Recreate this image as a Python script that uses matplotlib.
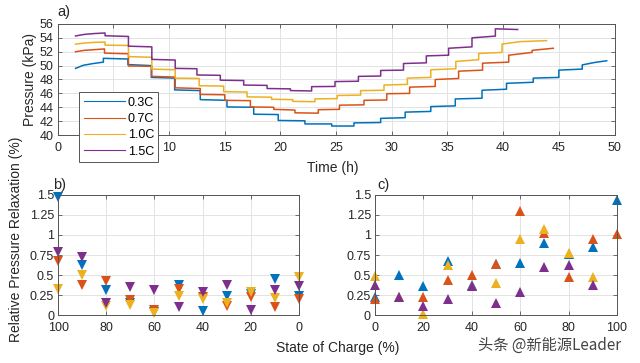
import numpy as np
import matplotlib
matplotlib.use("Agg")
import matplotlib.pyplot as plt

plt.rcParams['font.family'] = ['Liberation Sans', 'DejaVu Sans']
plt.rcParams['font.size'] = 9

# MATLAB default colours
c03 = '#0072BD'
c07 = '#D95319'
c10 = '#EDB120'
c15 = '#7E2F8E'

# ---- a) pressure vs time, step levels
t_03 = [1.6, 2.3, 3.2, 4.1, 6.3, 8.4, 10.5, 12.8, 15.2, 17.6, 19.8, 22.2, 24.6, 26.6,
        29.0, 31.2, 33.5, 35.7, 38.1, 40.3, 42.7, 45.0, 47.1, 48.2, 49.3]
ps_03 = [49.6, 50.05, 50.3, 51.05, 50.15, 48.3, 46.5, 45.1, 44.05, 43.0, 42.1, 41.6,
         41.3, 41.75, 42.4, 43.3, 44.1, 45.2, 46.45, 47.45, 48.2, 49.35, 50.1, 50.45]
pe_03 = [50.05, 50.3, 50.5, 50.95, 50.0, 48.2, 46.4, 45.0, 44.0, 42.95, 42.05, 41.6,
         41.3, 41.8, 42.5, 43.4, 44.2, 45.3, 46.6, 47.6, 48.3, 49.5, 50.45, 50.7]

t_07 = [1.6, 2.4, 3.3, 4.2, 6.35, 8.45, 10.55, 12.8, 15.0, 17.3, 19.4, 21.3, 23.4, 25.3,
        27.5, 29.55, 31.6, 33.9, 36.0, 38.15, 40.5, 42.6, 44.5]
ps_07 = [52.0, 52.2, 52.3, 51.8, 49.95, 48.45, 46.8, 45.85, 45.0, 44.05, 43.7, 43.2,
         43.65, 44.3, 45.0, 45.95, 46.9, 48.0, 49.2, 50.35, 51.5, 52.2]
pe_07 = [52.2, 52.3, 52.4, 51.7, 49.9, 48.35, 46.7, 45.8, 44.95, 44.0, 43.6, 43.15,
         43.7, 44.35, 45.05, 46.0, 47.0, 48.15, 49.35, 50.5, 51.9, 52.5]

t_10 = [1.6, 2.4, 3.3, 4.25, 6.35, 8.45, 10.55, 12.7, 14.9, 17.0, 19.2, 21.1, 23.1, 25.1,
        27.2, 29.3, 31.4, 33.5, 35.75, 37.8, 39.9, 41.5, 43.9]
ps_10 = [53.1, 53.25, 53.35, 52.95, 51.3, 49.5, 48.2, 47.1, 46.25, 45.5, 45.15, 44.85,
         45.2, 45.7, 46.4, 47.2, 48.2, 49.4, 50.6, 51.75, 53.1, 53.45]
pe_10 = [53.25, 53.35, 53.4, 52.9, 51.2, 49.4, 48.15, 47.05, 46.2, 45.45, 45.1, 44.8,
         45.25, 45.75, 46.45, 47.3, 48.3, 49.55, 50.85, 51.9, 53.45, 53.6]

t_15 = [1.6, 2.4, 3.3, 4.25, 6.35, 8.45, 10.55, 12.5, 14.6, 16.7, 18.8, 20.9, 22.8, 24.9,
        27.0, 29.0, 31.05, 33.1, 35.1, 37.2, 39.3, 41.3]
ps_15 = [54.27, 54.5, 54.62, 54.3, 52.8, 50.9, 49.6, 48.65, 47.9, 47.2, 46.7, 46.4,
         46.97, 47.7, 48.45, 49.3, 50.3, 51.4, 52.5, 54.0, 55.3]
pe_15 = [54.5, 54.62, 54.7, 54.2, 52.7, 50.8, 49.55, 48.6, 47.85, 47.15, 46.65, 46.35,
         47.0, 47.75, 48.5, 49.35, 50.4, 51.5, 52.7, 54.25, 55.2]

# ---- b) discharge relaxation, c) charge relaxation
soc_b = [100, 90, 80, 70, 60, 50, 40, 30, 20, 10, 0]
b_03 = [1.47, 0.625, 0.31, 0.15, 0.04, 0.375, 0.05, 0.24, 0.26, 0.45, 0.24]
b_07 = [0.67, 0.375, 0.42, 0.19, 0.06, 0.33, 0.23, 0.11, 0.22, 0.10, 0.20]
b_10 = [0.33, 0.50, 0.11, 0.125, 0.02, 0.24, 0.20, 0.155, 0.29, 0.21, 0.48]
b_15 = [0.79, 0.72, 0.155, 0.35, 0.31, 0.10, 0.29, 0.375, 0.06, 0.31, 0.36]

soc_c = [0, 10, 20, 30, 40, 50, 60, 70, 80, 90, 100]
c_03 = [0.22, 0.50, 0.36, 0.67, 0.37, 0.64, 0.65, 0.90, 0.76, 0.85, 1.44]
c_07 = [0.20, 0.23, 0.23, 0.44, 0.50, 0.64, 1.30, 1.02, 0.48, 0.945, 1.01]
c_10 = [0.49, 0.23, 0.01, 0.62, 0.36, 0.40, 0.945, 1.08, 0.78, 0.48, np.nan]
c_15 = [0.375, 0.23, 0.11, 0.20, 0.36, 0.15, 0.29, 0.60, 0.625, 0.375, np.nan]

labels = ['0.3C', '0.7C', '1.0C', '1.5C']
colors = [c03, c07, c10, c15]


def steps(tb, ps, pe):
    t = []
    p = []
    for i in range(len(ps)):
        t += [tb[i], tb[i + 1]]
        p += [ps[i], pe[i]]
    return t, p


def style(ax, xpad=3):
    ax.grid(True, color='#e3e3e3', linewidth=0.7)
    ax.set_axisbelow(True)
    for s in ax.spines.values():
        s.set_color('#555555')
        s.set_linewidth(0.7)
    ax.tick_params(direction='in', length=3, width=0.6, colors='#555555',
                   labelcolor='#262626', top=True, right=True, labelsize=9, pad=3)
    ax.tick_params(axis='x', pad=xpad)


fig = plt.figure(figsize=(6.4, 3.63), dpi=100)

ax1 = fig.add_axes([0.0902, 0.628, 0.870, 0.306])
series = [(t_03, ps_03, pe_03), (t_07, ps_07, pe_07), (t_10, ps_10, pe_10), (t_15, ps_15, pe_15)]
for (tb, ps, pe), col, lab in zip(series, colors, labels):
    t, p = steps(tb, ps, pe)
    ax1.plot(t, p, color=col, linewidth=1.1, label=lab)
ax1.set_xlim(0, 50)
ax1.set_ylim(40, 56)
ax1.set_xticks(range(0, 51, 5))
ax1.set_yticks(range(40, 57, 2))
style(ax1, xpad=5)
ax1.set_ylabel('Pressure (kPa)', fontsize=10, color='#262626', labelpad=2)
ax1.text(0.0, 1.07, 'a)', transform=ax1.transAxes, fontsize=10.5, color='#262626')
leg = ax1.legend(loc='upper left', bbox_to_anchor=(0.039, 0.385), fancybox=False,
                 edgecolor='#555555', framealpha=1, fontsize=9, handlelength=3.3,
                 handletextpad=0.2, labelspacing=0.35, borderpad=0.35, borderaxespad=0)
leg.get_frame().set_linewidth(0.7)
for ln in leg.get_lines():
    ln.set_linewidth(0.8)
fig.text(333 / 640, 1 - 168 / 363, 'Time (h)', ha='center', va='center',
         fontsize=10, color='#262626')

yt = [0, 0.25, 0.5, 0.75, 1, 1.25, 1.5]
ytl = ['0', '0.25', '0.5', '0.75', '1', '1.25', '1.5']

ax2 = fig.add_axes([0.091, 0.132, 0.376, 0.331])
for vals, col in zip([b_03, b_07, b_10, b_15], colors):
    ax2.plot(soc_b, vals, linestyle='none', marker='v', markersize=7,
             color=col, markeredgewidth=0, clip_on=False)
ax2.set_xlim(100, 0)
ax2.set_ylim(0, 1.5)
ax2.set_xticks(range(0, 101, 20))
ax2.set_yticks(yt)
ax2.set_yticklabels(ytl)
style(ax2, xpad=5)
ax2.text(-0.02, 1.05, 'b)', transform=ax2.transAxes, fontsize=10.5, color='#262626')

ax3 = fig.add_axes([0.586, 0.132, 0.378, 0.331])
for vals, col in zip([c_03, c_07, c_10, c_15], colors):
    ax3.plot(soc_c, vals, linestyle='none', marker='^', markersize=7,
             color=col, markeredgewidth=0, clip_on=False)
ax3.set_xlim(0, 100)
ax3.set_ylim(0, 1.5)
ax3.set_xticks(range(0, 101, 20))
ax3.set_yticks(yt)
ax3.set_yticklabels(ytl)
style(ax3, xpad=5)
ax3.text(0.01, 1.05, 'c)', transform=ax3.transAxes, fontsize=10.5, color='#262626')

fig.text(16 / 640, 1 - 239 / 363, 'Relative Pressure Relaxation (%)', rotation=90,
         ha='center', va='center', fontsize=10, color='#262626')
fig.text(338 / 640, 1 - 348 / 363, 'State of Charge (%)', ha='center', va='center',
         fontsize=10, color='#262626')
fig.text(550 / 640, 1 - 345 / 363, '头条 @新能源Leader', ha='center', va='center',
         fontsize=11, color='#444444', family=['Noto Sans CJK SC', 'DejaVu Sans'])

fig.savefig('out.png', dpi=100)
